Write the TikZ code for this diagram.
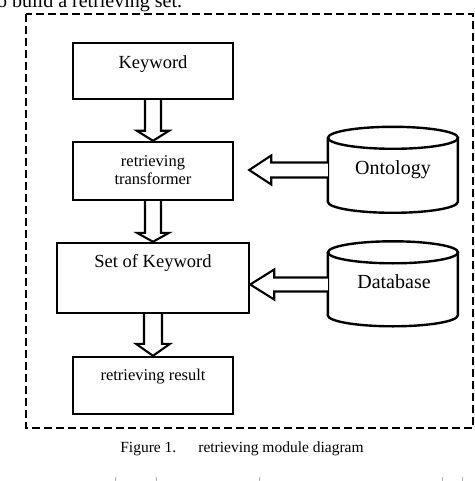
\documentclass[tikz,border=0pt]{standalone}
\usepackage{fontspec}
\setmainfont{Liberation Serif}
\usetikzlibrary{calc}
\begin{document}
\begin{tikzpicture}[x=1pt,y=-1pt,
  box/.style={draw, line width=2.4pt, rectangle, inner sep=0pt},
  blockarrow/.style={draw, line width=2.1pt, fill=white, line join=miter},
  cylline/.style={draw, line width=2.4pt},
  frame/.style={draw, line width=2.5pt, dash pattern=on 8pt off 4pt},
  bigtxt/.style={font=\fontsize{18.5}{20}\selectfont, anchor=base, inner sep=0pt},
  midtxt/.style={font=\fontsize{16.5}{18}\selectfont, anchor=base, inner sep=0pt},
  dbtxt/.style={font=\fontsize{20}{22}\selectfont, anchor=base, inner sep=0pt},
  tick/.style={draw=gray!60, line width=0.6pt}
]
\clip (0,0) rectangle (474,481);
\fill[white] (0,0) rectangle (474,481);

% header text (cut by page top, as in the reference)
\node[font=\fontsize{20}{22}\selectfont, anchor=base west, inner sep=0pt] (head) at (-8.6,7.5) {to build a retrieving set.};

% dashed frame
\draw[frame] (26,14) rectangle (473,428);

% boxes
\node[box, minimum width=160pt, minimum height=56pt] (kw) at (153,71) {};
\node[box, minimum width=160pt, minimum height=58pt] (rt) at (153,171) {};
\node[box, minimum width=192pt, minimum height=70pt] (sk) at (153,278) {};
\node[box, minimum width=160pt, minimum height=57pt] (rr) at (153,385.5) {};

\node[bigtxt] (kwt) at (153,69) {Keyword};
\node[midtxt] (rt1) at (153,166) {retrieving};
\node[midtxt] (rt2) at (153,184) {transformer};
\node[bigtxt] (skt) at (153,267) {Set of Keyword};
\node[midtxt] (rrt) at (153,380) {retrieving result};

% cylinders (anchor nodes)
\node[minimum width=130pt, minimum height=86pt, inner sep=0pt] (onto) at (393,170) {};
\node[minimum width=130pt, minimum height=86pt, inner sep=0pt] (db) at (393,284.5) {};

\draw[cylline] (onto.north west) ++(0,11) coordinate (o1) -- ++(0,64)
  arc[start angle=180, end angle=360, x radius=65pt, y radius=11pt] -- ++(0,-64);
\draw[cylline] ($(onto.north)+(0,11)$) ellipse [x radius=65pt, y radius=11pt];
\draw[cylline] (db.north west) ++(0,11) coordinate (d1) -- ++(0,63)
  arc[start angle=180, end angle=360, x radius=65pt, y radius=11pt] -- ++(0,-63);
\draw[cylline] ($(db.north)+(0,11)$) ellipse [x radius=65pt, y radius=11pt];

\node[dbtxt] (ontot) at (393,175) {Ontology};
\node[dbtxt] (dbt) at (394,288) {Database};

% vertical block arrows
\draw[blockarrow] ($(kw.south)+(-8,0)$) -- ($(rt.north)+(-8,-10)$) -- ($(rt.north)+(-16,-10)$)
  -- (rt.north) -- ($(rt.north)+(16,-10)$) -- ($(rt.north)+(8,-10)$) -- ($(kw.south)+(8,0)$);
\draw[blockarrow] ($(rt.south)+(-8,0)$) -- ($(sk.north)+(-8,-9)$) -- ($(sk.north)+(-16,-9)$)
  -- (sk.north) -- ($(sk.north)+(16,-9)$) -- ($(sk.north)+(8,-9)$) -- ($(rt.south)+(8,0)$);
\draw[blockarrow] ($(sk.south)+(-9,0)$) -- ($(rr.north)+(-9,-12)$) -- ($(rr.north)+(-17,-12)$)
  -- (rr.north) -- ($(rr.north)+(17,-12)$) -- ($(rr.north)+(9,-12)$) -- ($(sk.south)+(9,0)$);

% horizontal block arrows
\coordinate (otip) at ($(rt.east |- onto.west)+(15,0)$);
\draw[blockarrow] ($(onto.west)+(0,-7.5)$) -- ($(otip)+(22,-7.5)$) -- ($(otip)+(22,-14.5)$)
  -- (otip) -- ($(otip)+(22,14.5)$) -- ($(otip)+(22,7.5)$) -- ($(onto.west)+(0,7.5)$);
\coordinate (dtip) at (sk.east |- db.west);
\draw[blockarrow] ($(db.west)+(0,-7)$) -- ($(dtip)+(24,-7)$) -- ($(dtip)+(24,-15)$)
  -- (dtip) -- ($(dtip)+(24,15)$) -- ($(dtip)+(24,7)$) -- ($(db.west)+(0,7)$);

% caption
\node[font=\fontsize{15.5}{17}\selectfont, anchor=base, inner sep=0pt] (cap) at (242,452)
  {Figure 1.\hspace{22pt}retrieving module diagram};

% table fragments at bottom
\foreach \tx in {115,156,259,442,462} {
  \draw[tick] (\tx,477) -- (\tx,481);
}
\end{tikzpicture}
\end{document}
